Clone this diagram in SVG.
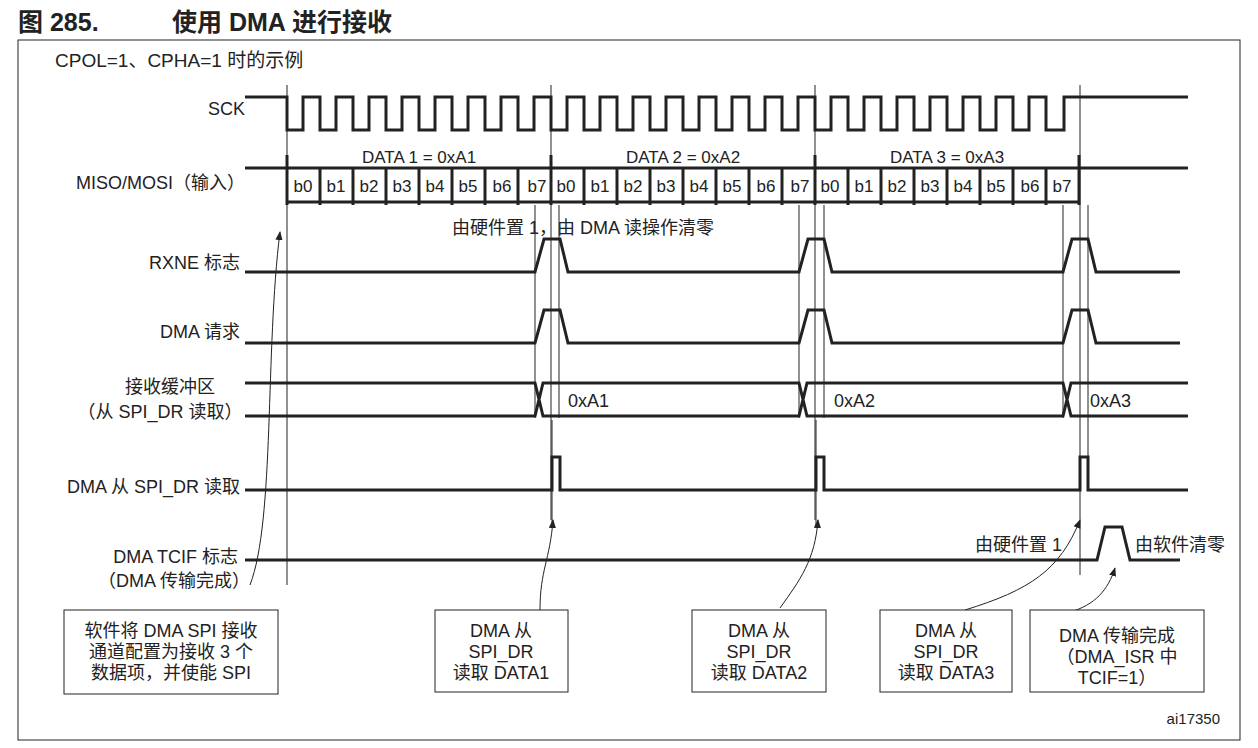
<svg xmlns="http://www.w3.org/2000/svg" width="1258" height="748" viewBox="0 0 1258 748">
<style>
text{font-family:"Liberation Sans","Noto Sans CJK SC",sans-serif;fill:#222;font-size:18px}
.r{text-anchor:end}.c{text-anchor:middle}
.w{fill:none;stroke:#222;stroke-width:3}
.t{fill:none;stroke:#222;stroke-width:1}
.b{fill:#fff;stroke:#222;stroke-width:1}
.bit{font-size:17px;text-anchor:middle}
</style>
<defs><marker id="ah" viewBox="0 0 10 10" refX="9" refY="5" markerWidth="9" markerHeight="9" orient="auto"><path d="M0,1 L10,5 L0,9 z" fill="#222"/></marker></defs>
<text x="18" y="31" style="font-size:25px;font-weight:bold">图 285.</text>
<text x="172" y="31" style="font-size:25px;font-weight:bold">使用 DMA 进行接收</text>
<rect x="18" y="40" width="1222" height="700" class="t"/>
<text x="55" y="67" style="font-size:19px">CPOL=1、CPHA=1 时的示例</text>
<g id="labels">
<text x="245" y="115" class="r">SCK</text>
<text x="245" y="189" class="r">MISO/MOSI（输入）</text>
<text x="240" y="269" class="r">RXNE 标志</text>
<text x="240" y="338" class="r">DMA 请求</text>
<text x="170" y="393" class="c">接收缓冲区</text>
<text x="160" y="418" class="c">（从 SPI_DR 读取）</text>
<text x="240" y="493" class="r">DMA 从 SPI_DR 读取</text>
<text x="238" y="563" class="r">DMA TCIF 标志</text>
<text x="250" y="587" class="r">（DMA 传输完成）</text>
<text x="452" y="234">由硬件置 1，由 DMA 读操作清零</text>
<text x="1062" y="551" class="r">由硬件置 1</text>
<text x="1135" y="551">由软件清零</text>
<text x="1220" y="724" class="r" style="font-size:15px">ai17350</text>
</g>
<g id="sck"><path class="w" d="M245,97 H287 V130 H303 V97 H320 V130 H336 V97 H353 V130 H369 V97 H386 V130 H402 V97 H419 V130 H435 V97 H452 V130 H468 V97 H485 V130 H501 V97 H518 V130 H534 V97 H551 V130 H567 V97 H584 V130 H600 V97 H617 V130 H633 V97 H650 V130 H666 V97 H683 V130 H699 V97 H716 V130 H732 V97 H749 V130 H765 V97 H782 V130 H798 V97 H815 V130 H831 V97 H848 V130 H864 V97 H881 V130 H897 V97 H914 V130 H930 V97 H947 V130 H963 V97 H980 V130 H996 V97 H1013 V130 H1029 V97 H1046 V130 H1064 V97 H1188"/></g>
<g id="miso">
<path class="w" d="M245,168 H1188 M287,202 H1079 M287,155 V202 M551,155 V202 M815,155 V202 M1079,155 V202"/>
<path class="w" d="M320,168V205M353,168V205M386,168V205M419,168V205M452,168V205M485,168V205M518,168V205M584,168V205M617,168V205M650,168V205M683,168V205M716,168V205M749,168V205M782,168V205M848,168V205M881,168V205M914,168V205M947,168V205M980,168V205M1013,168V205M1046,168V205M287,202V205M551,202V205M815,202V205M1079,202V205"/>
<text x="419" y="163" class="c" style="font-size:17px">DATA 1 = 0xA1</text>
<text x="683" y="163" class="c" style="font-size:17px">DATA 2 = 0xA2</text>
<text x="947" y="163" class="c" style="font-size:17px">DATA 3 = 0xA3</text>
<g>
<text x="303" y="192" class="bit">b0</text><text x="336" y="192" class="bit">b1</text><text x="369" y="192" class="bit">b2</text><text x="402" y="192" class="bit">b3</text><text x="435" y="192" class="bit">b4</text><text x="468" y="192" class="bit">b5</text><text x="502" y="192" class="bit">b6</text><text x="537" y="192" class="bit">b7</text>
<text x="566" y="192" class="bit">b0</text><text x="600" y="192" class="bit">b1</text><text x="633" y="192" class="bit">b2</text><text x="666" y="192" class="bit">b3</text><text x="699" y="192" class="bit">b4</text><text x="732" y="192" class="bit">b5</text><text x="766" y="192" class="bit">b6</text><text x="800" y="192" class="bit">b7</text>
<text x="830" y="192" class="bit">b0</text><text x="864" y="192" class="bit">b1</text><text x="897" y="192" class="bit">b2</text><text x="930" y="192" class="bit">b3</text><text x="963" y="192" class="bit">b4</text><text x="996" y="192" class="bit">b5</text><text x="1030" y="192" class="bit">b6</text><text x="1062" y="192" class="bit">b7</text>
</g>
</g>
<g id="guides">
<path class="t" d="M287,85V585 M551,85V520 M815,85V520 M1080,85V575 M535,205V418 M559,205V418 M552,420V525 M799,205V418 M824,205V418 M816,420V525 M1063,205V418 M1088,205V470"/>
</g>
<g id="rxne"><path class="w" d="M245,272 H535 L544,239 H560 L568,272 H799 L808,239 H824 L832,272 H1063 L1072,239 H1088 L1096,272 H1180"/></g>
<g id="dmareq"><path class="w" d="M245,343 H535 L544,310 H560 L568,343 H799 L808,310 H824 L832,343 H1063 L1072,310 H1088 L1096,343 H1180"/></g>
<g id="buffer"><path class="w" d="M245,383 H535 L543,416 H799 L807,383 H1063 L1071,416 H1188 M245,416 H535 L543,383 H799 L807,416 H1063 L1071,383 H1188"/>
<text x="568" y="407">0xA1</text><text x="834" y="407">0xA2</text><text x="1090" y="407">0xA3</text></g>
<g id="dmaread"><path class="w" d="M245,490 H552 V457 H560 V490 H816 V457 H824 V490 H1080 V457 H1088 V490 H1188"/></g>
<g id="tcif"><path class="w" d="M245,560 H1097 L1105,527 H1122 L1130,560 H1180"/></g>
<g id="connectors" class="t">
<path class="t" marker-end="url(#ah)" d="M250,585 C275,520 265,350 280,232"/>
<path class="t" marker-end="url(#ah)" d="M540,610 C540,570 550,560 553,520"/>
<path class="t" marker-end="url(#ah)" d="M780,608 C800,580 815,560 818,520"/>
<path class="t" marker-end="url(#ah)" d="M965,610 C1030,590 1060,570 1080,520"/>
<path class="t" marker-end="url(#ah)" d="M1070,612 C1095,605 1108,590 1115,568"/>
</g>
<g id="box1"><rect x="64" y="610" width="214" height="84" class="b"/><text x="171" y="637" class="c">软件将 DMA SPI 接收</text><text x="171" y="658" class="c">通道配置为接收 3 个</text><text x="171" y="679" class="c">数据项，并使能 SPI</text></g>
<g id="box2"><rect x="435" y="610" width="133" height="82" class="b"/><text x="501" y="637" class="c">DMA 从</text><text x="501" y="658" class="c">SPI_DR</text><text x="501" y="679" class="c">读取 DATA1</text></g>
<g id="box3"><rect x="692" y="610" width="134" height="82" class="b"/><text x="759" y="637" class="c">DMA 从</text><text x="759" y="658" class="c">SPI_DR</text><text x="759" y="679" class="c">读取 DATA2</text></g>
<g id="box4"><rect x="880" y="610" width="132" height="82" class="b"/><text x="946" y="637" class="c">DMA 从</text><text x="946" y="658" class="c">SPI_DR</text><text x="946" y="679" class="c">读取 DATA3</text></g>
<g id="box5"><rect x="1030" y="610" width="174" height="82" class="b"/><text x="1117" y="642" class="c">DMA 传输完成</text><text x="1117" y="663" class="c">（DMA_ISR 中</text><text x="1117" y="684" class="c">TCIF=1）</text></g>
</svg>
